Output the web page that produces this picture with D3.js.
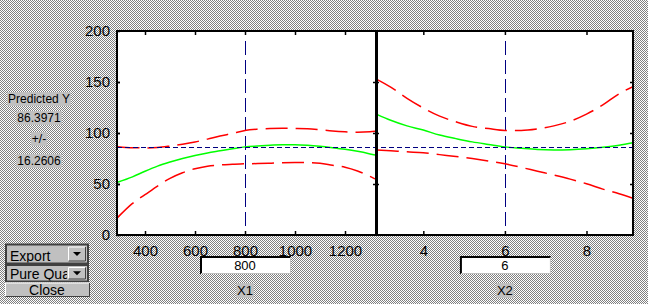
<!DOCTYPE html>
<html>
<head>
<meta charset="utf-8">
<script src="https://cdn.jsdelivr.net/npm/d3@7"></script>
<style>
  body { margin: 0; }
  svg { display: block; }
</style>
</head>
<body>
<div id="chart-holder"></div>
<script>
// values
var x1Grid = [290, 350, 400, 450, 500, 550, 600, 650, 700, 750, 800, 850, 900, 950, 1000, 1050, 1100, 1150, 1200, 1250, 1300, 1320];
var x1Pred = [51.7, 57, 62.5, 67.5, 71.5, 75, 78, 80.5, 82.5, 84.5, 86.4, 87.3, 88, 88.5, 88.5, 88, 87, 85.6, 84, 82, 79.5, 78.4];
var x1Upper = [86.6, 85.6, 85.4, 85.8, 87.2, 89, 91.2, 94, 97, 99.6, 102.5, 103.8, 104.4, 104.6, 104.5, 104.2, 103.2, 102, 101.2, 100.8, 101.2, 101.6];
var x1Lower = [17, 31, 39.5, 48, 55.5, 61, 65, 67.5, 68.7, 69.3, 69.8, 70, 70.4, 70.8, 71, 71, 70.4, 68.4, 66.5, 62.8, 57.5, 55];

var x2Grid = [2.86, 3.2, 3.6, 4.0, 4.4, 4.8, 5.2, 5.6, 6.0, 6.4, 6.8, 7.2, 7.6, 8.0, 8.4, 8.8, 9.14];
var x2Pred = [118.3, 112.5, 107, 102.9, 98, 94.5, 91.3, 88.8, 86.4, 85, 83.8, 83.4, 83.7, 84.6, 86, 88, 90.5];
var x2Upper = [152.6, 145, 134, 124.5, 116.5, 111, 106.5, 104.3, 102.5, 102.5, 104, 107, 111.5, 118.5, 127.5, 138.5, 145.4];
var x2Lower = [83.3, 82.5, 81.5, 80.7, 78.8, 77, 75, 72.6, 69.8, 66.3, 62.5, 58.8, 54.8, 50.3, 45, 40.4, 36];

var yTicks = [0, 50, 100, 150, 200];
var x1Ticks = [400, 600, 800, 1000, 1200];
var x2Ticks = [4, 6, 8];
var x1Current = 800, x2Current = 6;
var predValue = 86.3971;
var infoLines = ["Predicted Y", "86.3971", "+/-", "16.2606"];
var factorNames = ["X1", "X2"];
var exportLabel = "Export", modelLabel = "Pure Quad", closeLabel = "Close";

var W = 648, H = 304;
var font = "'Liberation Sans', Arial, sans-serif";

var svg = d3.select("#chart-holder").append("svg")
  .attr("width", W)
  .attr("height", H);

var defs = svg.append("defs");

// dithered window background
var pat = defs.append("pattern")
  .attr("id", "dither")
  .attr("width", 2).attr("height", 2)
  .attr("patternUnits", "userSpaceOnUse");
pat.append("rect").attr("width", 2).attr("height", 2).attr("fill", "#ffffff");
pat.append("rect").attr("width", 1).attr("height", 1).attr("fill", "#808080");
pat.append("rect").attr("x", 1).attr("y", 1).attr("width", 1).attr("height", 1).attr("fill", "#808080");

svg.append("rect")
  .attr("width", W).attr("height", H)
  .attr("fill", "url(#dither)")
  .attr("shape-rendering", "crispEdges");

var plotTop = 31, plotBottom = 235;
var y = d3.scaleLinear().domain([0, 200]).range([plotBottom, plotTop]);
var x1 = d3.scaleLinear().domain([288, 1324]).range([117, 376]);
var x2 = d3.scaleLinear().domain([2.84, 9.14]).range([376, 633]);

function drawPanel(id, x, grid, pred, upper, lower, current) {
  var r = x.range();
  var g = svg.append("g");

  g.append("rect")
    .attr("x", r[0]).attr("y", plotTop)
    .attr("width", r[1] - r[0]).attr("height", plotBottom - plotTop)
    .attr("fill", "#ffffff")
    .attr("shape-rendering", "crispEdges");

  defs.append("clipPath").attr("id", "clip" + id)
    .append("rect")
    .attr("x", r[0]).attr("y", plotTop)
    .attr("width", r[1] - r[0]).attr("height", plotBottom - plotTop);

  var plot = g.append("g").attr("clip-path", "url(#clip" + id + ")");

  var line = d3.line()
    .x(function (d) { return x(d[0]); })
    .y(function (d) { return y(d[1]); })
    .curve(d3.curveMonotoneX);

  // vertical marker at the current setting
  var vx = Math.round(x(current)) + 0.5;
  plot.append("line")
    .attr("x1", vx).attr("x2", vx)
    .attr("y1", plotTop + 10).attr("y2", plotBottom)
    .attr("stroke", "#000080")
    .attr("stroke-width", 1)
    .attr("stroke-dasharray", "14,5");

  plot.append("path")
    .datum(grid.map(function (v, i) { return [v, pred[i]]; }))
    .attr("d", line)
    .attr("fill", "none")
    .attr("stroke", "#00ff00")
    .attr("stroke-width", 1.5);

  [upper, lower].forEach(function (arr) {
    plot.append("path")
      .datum(grid.map(function (v, i) { return [v, arr[i]]; }))
      .attr("d", line)
      .attr("fill", "none")
      .attr("stroke", "#ff0000")
      .attr("stroke-width", 1.5)
      .attr("stroke-dasharray", "22,8");
  });

  return g;
}

drawPanel(1, x1, x1Grid, x1Pred, x1Upper, x1Lower, x1Current);
drawPanel(2, x2, x2Grid, x2Pred, x2Upper, x2Lower, x2Current);

// horizontal line at the predicted value, across both panels
var hy = Math.round(y(predValue)) + 0.5;
svg.append("line")
  .attr("x1", x1.range()[0]).attr("x2", x2.range()[1])
  .attr("y1", hy).attr("y2", hy)
  .attr("stroke", "#000080")
  .attr("stroke-width", 1)
  .attr("stroke-dasharray", "5,3");

function styleAxis(g) {
  g.select(".domain").remove();
  g.selectAll(".tick line").attr("stroke", "#000").attr("stroke-width", 1.5);
  g.selectAll("text")
    .attr("fill", "#000")
    .style("font-family", font)
    .style("font-size", "15px");
}

// y axis labels on the left panel
svg.append("g")
  .attr("transform", "translate(117,0)")
  .call(d3.axisLeft(y).tickValues(yTicks).tickSize(-3).tickPadding(7).tickFormat(d3.format("d")))
  .call(styleAxis);

// inner ticks on every edge
[[x1, x1Ticks], [x2, x2Ticks]].forEach(function (pair) {
  var x = pair[0];
  svg.append("g")
    .attr("transform", "translate(0," + plotBottom + ")")
    .call(d3.axisBottom(x).tickValues(pair[1]).tickSize(-4).tickPadding(10).tickFormat(d3.format("d")))
    .call(styleAxis);
  svg.append("g")
    .attr("transform", "translate(0," + plotTop + ")")
    .call(d3.axisTop(x).tickValues(pair[1]).tickSize(-4).tickFormat(""))
    .call(styleAxis);
  svg.append("g")
    .attr("transform", "translate(" + x.range()[1] + ",0)")
    .call(d3.axisRight(y).tickValues(yTicks.slice(1, 4)).tickSize(-3).tickFormat(""))
    .call(styleAxis);
  svg.append("g")
    .attr("transform", "translate(" + x.range()[0] + ",0)")
    .call(d3.axisLeft(y).tickValues(yTicks.slice(1, 4)).tickSize(-3).tickFormat(""))
    .call(styleAxis);
});

// frames
svg.append("rect")
  .attr("x", 117).attr("y", plotTop)
  .attr("width", 633 - 117).attr("height", plotBottom - plotTop)
  .attr("fill", "none")
  .attr("stroke", "#000")
  .attr("stroke-width", 2);
svg.append("line")
  .attr("x1", 376.5).attr("x2", 376.5)
  .attr("y1", plotTop).attr("y2", plotBottom)
  .attr("stroke", "#000")
  .attr("stroke-width", 3);

// left info block
var infoY = [103, 122, 143, 165];
infoLines.forEach(function (t, i) {
  var txt = svg.append("text")
    .attr("x", 39).attr("y", infoY[i])
    .attr("text-anchor", "middle")
    .style("font-family", font)
    .style("font-size", "12px")
    .attr("fill", "#000")
    .text(t);
  var b = txt.node().getBBox();
  svg.insert("rect", function () { return txt.node(); })
    .attr("x", b.x - 1).attr("y", b.y)
    .attr("width", b.width + 2).attr("height", b.height)
    .attr("fill", "#c0c0c0");
});

// edit boxes and factor names below the panels
[[x1, x1Current], [x2, x2Current]].forEach(function (pair, i) {
  var cx = pair[0](pair[1]);
  var bx = cx - 45, by = 256, bw = 91, bh = 18;
  svg.append("rect")
    .attr("x", bx).attr("y", by).attr("width", bw).attr("height", bh)
    .attr("fill", "#fff");
  svg.append("path")
    .attr("d", "M" + (bx + 1) + "," + (by + bh) + "V" + (by + 1) + "H" + (bx + bw))
    .attr("fill", "none").attr("stroke", "#000").attr("stroke-width", 2);
  svg.append("path")
    .attr("d", "M" + (bx + 1) + "," + (by + bh - 0.5) + "H" + (bx + bw - 0.5) + "V" + (by + 1))
    .attr("fill", "none").attr("stroke", "#c0c0c0").attr("stroke-width", 1);
  svg.append("text")
    .attr("x", cx).attr("y", by + 14)
    .attr("text-anchor", "middle")
    .style("font-family", font)
    .style("font-size", "13px")
    .attr("fill", "#000")
    .text(pair[1]);

  var lab = svg.append("text")
    .attr("x", cx).attr("y", 295)
    .attr("text-anchor", "middle")
    .style("font-family", font)
    .style("font-size", "13px")
    .attr("fill", "#000")
    .text(factorNames[i]);
  var b = lab.node().getBBox();
  svg.insert("rect", function () { return lab.node(); })
    .attr("x", b.x - 1).attr("y", b.y)
    .attr("width", b.width + 2).attr("height", b.height)
    .attr("fill", "#c0c0c0");
});

// popup menus
function popup(py, ph, label, id) {
  var g = svg.append("g");
  g.append("rect")
    .attr("x", 6).attr("y", py).attr("width", 82).attr("height", ph)
    .attr("fill", "#c0c0c0")
    .attr("stroke", "#404040").attr("stroke-width", 2);
  defs.append("clipPath").attr("id", "pc" + id)
    .append("rect").attr("x", 8).attr("y", py + 1).attr("width", 59).attr("height", ph - 2);
  g.append("text")
    .attr("x", 10).attr("y", py + ph - 2.5)
    .attr("clip-path", "url(#pc" + id + ")")
    .style("font-family", font)
    .style("font-size", "14px")
    .attr("fill", "#000")
    .text(label);
  // arrow button
  g.append("rect")
    .attr("x", 68).attr("y", py + 2.5).attr("width", 17).attr("height", ph - 5)
    .attr("fill", "#c0c0c0");
  g.append("path")
    .attr("d", "M68.5," + (py + ph - 2.5) + "V" + (py + 2.5) + "H85")
    .attr("fill", "none").attr("stroke", "#fff");
  g.append("path")
    .attr("d", "M68.5," + (py + ph - 2.5) + "H85.5V" + (py + 2.5))
    .attr("fill", "none").attr("stroke", "#404040");
  var my = py + ph / 2;
  g.append("path")
    .attr("d", "M73," + (my - 2) + "H81L77," + (my + 2) + "Z")
    .attr("fill", "#000");
}
popup(244.5, 19, exportLabel, 1);
popup(265, 16.5, modelLabel, 2);

// close button
svg.append("rect")
  .attr("x", 5).attr("y", 282.5).attr("width", 85).attr("height", 14.5)
  .attr("fill", "#c0c0c0");
svg.append("path")
  .attr("d", "M5.5,296.5V283H89.5")
  .attr("fill", "none").attr("stroke", "#fff");
svg.append("path")
  .attr("d", "M5.5,296.5H89.5V283")
  .attr("fill", "none").attr("stroke", "#404040");
svg.append("text")
  .attr("x", 47).attr("y", 295)
  .attr("text-anchor", "middle")
  .style("font-family", font)
  .style("font-size", "14px")
  .attr("fill", "#000")
  .text(closeLabel);
</script>
</body>
</html>
